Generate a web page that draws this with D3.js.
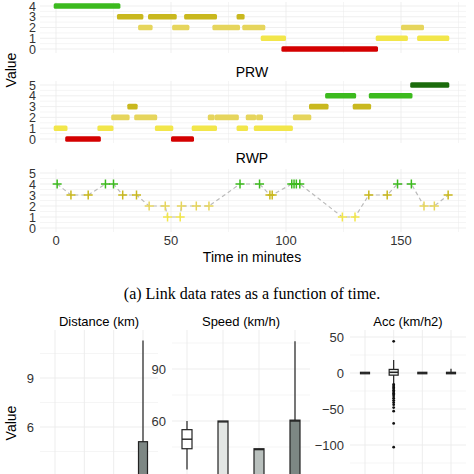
<!DOCTYPE html><html><head><meta charset="utf-8"><script src="https://cdn.jsdelivr.net/npm/d3@7"></script>
<style>body{margin:0;background:#fff}text{font-family:"Liberation Sans",Arial,sans-serif}</style></head><body><svg id="c" width="474" height="474"></svg>
<script>
// segments: [start, end, level]
const topSegs=[[-1,28,4],[26.5,38,3],[40,52.5,3],[55.7,70,3],[78.5,82,3],[35.7,42,2],[50.5,58,2],[68,80,2],[81,91,2],[89,100,1],[98,140,0],[139,153,1],[150,160,2],[157,171,1]];
const prwSegs=[[-1,5,1],[4,19.5,0],[18,25,1],[24,32,2],[31,35.5,3],[34,44,2],[43,51,1],[50,60,0],[59,70,1],[66,69,2],[69,79.5,2],[78.5,83.5,1],[82.5,87,2],[87,90,2],[86,103,1],[103,111,2],[110,118.5,3],[117,130.5,4],[129,137,3],[136,155,4],[154,171,5]];
const rwpT=[0.5,6.5,14,21.5,25,29,35,40.5,47.5,48.5,54,54.5,61,66.5,80,88.5,93,94,102.5,103.5,104.5,106,124.5,130,136,144,148.5,154.5,160,164.5,170.5];
const rwpV=[4,3,3,4,4,3,3,2,2,1,1,2,2,2,4,4,3,3,4,4,4,4,1,1,3,3,4,4,2,2,3];
const xTicks=[0,50,100,150];
const levelColors=["#d40000","#f2e64a","#e6d55c","#c9b81e","#3cba1e","#1b6b0c"];
const distBoxes=[{x:3,q1:-5,med:-3,q3:5.1,lo:-5,hi:11.3}];
const speedBoxes=[{q1:44,med:49.5,q3:55,lo:32,hi:60},{q1:0,med:59.5,q3:60,lo:0,hi:60},{q1:0,med:43.5,q3:44,lo:0,hi:44},{q1:0,med:60,q3:60.5,lo:0,hi:106}];
const accBoxes=[{q1:-1,med:0,q3:1,lo:-1.5,hi:1.5},{q1:-3,med:1,q3:5,lo:-15,hi:18},{q1:-1,med:0,q3:1,lo:-1.5,hi:1.5},{q1:-1,med:0,q3:1,lo:-1.5,hi:6}];
const accOutliers=[44,-16,-18,-20,-22,-24,-26,-28,-30,-32,-35,-38,-41,-44,-48,-53,-70,-103];
const boxFills=["#ffffff","#e3e6e4","#b9c0bd","#7d8784"];

const svg=d3.select("#c");
const x=d3.scaleLinear().domain([0,150]).range([56,401]);
const grid="#ebebeb";
function panel(y0,y5,maxV){
  const y=d3.scaleLinear().domain([0,maxV]).range([y0,y5]);
  const g=svg.append("g");
  g.selectAll(".vg").data([-25,0,25,50,75,100,125,150,175]).join("line").attr("x1",d=>x(d)).attr("x2",d=>x(d)).attr("y1",y(maxV)-4).attr("y2",y0+4).attr("stroke",grid).attr("stroke-width",d=>d%50==0?0.8:0.5);
  g.selectAll(".hg").data(d3.range(0,maxV+0.01,0.5)).join("line").attr("x1",40).attr("x2",466).attr("y1",d=>y(d)).attr("y2",d=>y(d)).attr("stroke",grid).attr("stroke-width",d=>d%1==0?0.8:0.5);
  g.selectAll(".yt").data(d3.range(0,maxV+1)).join("text").attr("x",36).attr("y",d=>y(d)+4.5).attr("text-anchor","end").attr("font-size",12.5).attr("fill","#333").text(d=>d);
  return y;
}
function segs(data,y){
  svg.append("g").selectAll("rect").data(data).join("rect").attr("x",d=>x(d[0])).attr("width",d=>x(d[1])-x(d[0])).attr("y",d=>y(d[2])-2.8).attr("height",5.6).attr("rx",1.5).attr("fill",d=>levelColors[d[2]]);
}
const yT=panel(49,6,4); segs(topSegs,yT);
svg.append("text").attr("x",252).attr("y",77).attr("text-anchor","middle").attr("font-size",14).text("PRW");
const yP=panel(139,85,5); segs(prwSegs,yP);
svg.append("text").attr("x",252).attr("y",163).attr("text-anchor","middle").attr("font-size",14).text("RWP");
const yR=panel(228,173,5);
const pts=rwpT.map((t,i)=>[t,rwpV[i]]);
svg.append("path").attr("d",d3.line().x(d=>x(d[0])).y(d=>yR(d[1]))(pts)).attr("fill","none").attr("stroke","#bbb").attr("stroke-dasharray","4,3").attr("stroke-width",1.2);
svg.append("g").selectAll("path").data(pts).join("path").attr("d",d=>{const cx=x(d[0]),cy=yR(d[1]);return `M${cx-4.5},${cy}H${cx+4.5}M${cx},${cy-4.5}V${cy+4.5}`}).attr("stroke",d=>levelColors[d[1]]).attr("stroke-width",1.5);
svg.append("g").selectAll("text").data(xTicks).join("text").attr("x",d=>x(d)).attr("y",245).attr("text-anchor","middle").attr("font-size",13).attr("fill","#333").text(d=>d);
svg.append("text").attr("x",252).attr("y",262).attr("text-anchor","middle").attr("font-size",14).text("Time in minutes");
svg.append("text").attr("transform","translate(16,70) rotate(-90)").attr("text-anchor","middle").attr("font-size",14).text("Value");
svg.append("text").attr("x",252).attr("y",299).attr("text-anchor","middle").attr("font-size",16).style("font-family","'Liberation Serif',serif").text("(a) Link data rates as a function of time.");

// bottom facets
function facet(x0,x1,title,dom,rng,ticks,minor,boxes,bw,outl){
  const y=d3.scaleLinear().domain(dom).range(rng);
  const xb=d3.scalePoint().domain([0,1,2,3]).range([x0+15,x1-15]);
  const g=svg.append("g");
  g.selectAll(".m").data(minor).join("line").attr("x1",x0).attr("x2",x1).attr("y1",d=>y(d)).attr("y2",d=>y(d)).attr("stroke",grid).attr("stroke-width",0.5);
  g.selectAll(".M").data(ticks).join("line").attr("x1",x0).attr("x2",x1).attr("y1",d=>y(d)).attr("y2",d=>y(d)).attr("stroke",grid).attr("stroke-width",0.9);
  g.selectAll(".v").data([0,1,2,3]).join("line").attr("x1",d=>xb(d)).attr("x2",d=>xb(d)).attr("y1",330).attr("y2",474).attr("stroke",grid).attr("stroke-width",0.9);
  g.selectAll(".t").data(ticks).join("text").attr("x",x0-6).attr("y",d=>y(d)+4.5).attr("text-anchor","end").attr("font-size",13).attr("fill","#333").text(d=>d<0?"\u2212"+(-d):d);
  svg.append("text").attr("x",(x0+x1)/2).attr("y",326).attr("text-anchor","middle").attr("font-size",13).text(title);
  boxes.forEach((b,i)=>{ const k=b.x!=null?b.x:i; const cx=xb(k);
    g.append("line").attr("x1",cx).attr("x2",cx).attr("y1",y(b.hi)).attr("y2",y(b.lo)).attr("stroke","#222").attr("stroke-width",1.2);
    g.append("rect").attr("x",cx-bw/2).attr("width",bw).attr("y",y(b.q3)).attr("height",Math.max(1.5,y(b.q1)-y(b.q3))).attr("fill",boxFills[k]).attr("stroke","#222").attr("stroke-width",1.2);
    g.append("line").attr("x1",cx-bw/2).attr("x2",cx+bw/2).attr("y1",y(b.med)).attr("y2",y(b.med)).attr("stroke","#222").attr("stroke-width",1.4);
  });
  if(outl) g.selectAll("circle").data(outl).join("circle").attr("cx",xb(1)).attr("cy",d=>y(d)).attr("r",1.4).attr("fill","#111");
}
svg.append("text").attr("transform","translate(16,423) rotate(-90)").attr("text-anchor","middle").attr("font-size",14).text("Value");
facet(40,158,"Distance (km)",[6,9],[427,378],[6,9],[4.5,7.5,10.5],distBoxes,9);
facet(172,310,"Speed (km/h)",[30,60],[473,421],[60,90],[45,75,105],speedBoxes,10);
facet(350,466,"Acc (km/h2)",[0,50],[373,337],[-100,-50,0,50],[-125,-75,-25,25],accBoxes,9,accOutliers);
</script></body></html>
